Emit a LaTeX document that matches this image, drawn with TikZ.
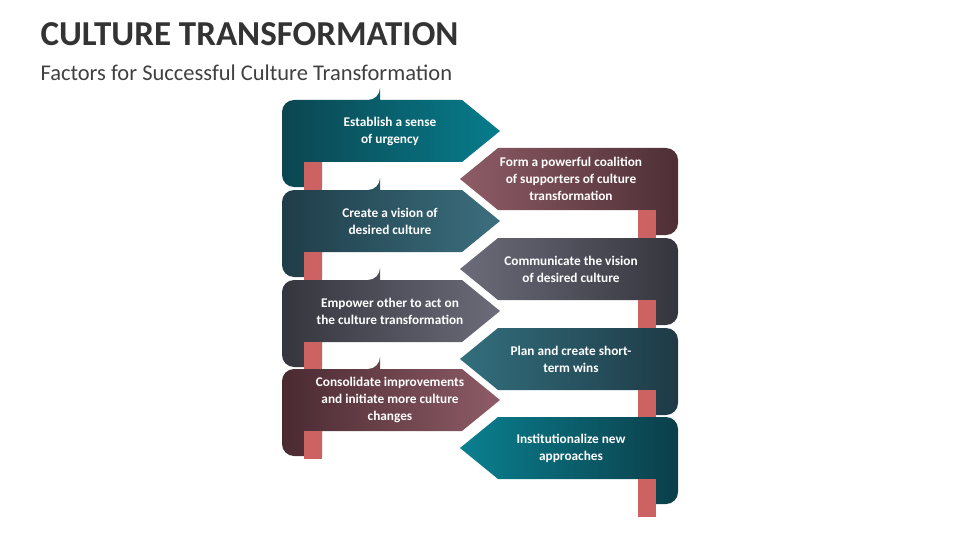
\documentclass[tikz,border=0pt]{standalone}
\usepackage{fontspec}
\setmainfont{Carlito}
\definecolor{barc}{HTML}{CD6262}
\definecolor{c1a}{HTML}{0B4650}\definecolor{c1b}{HTML}{077C8C}
\definecolor{c2a}{HTML}{8E5C66}\definecolor{c2b}{HTML}{4E2F35}
\definecolor{c3a}{HTML}{1F3D49}\definecolor{c3b}{HTML}{3C6F7E}
\definecolor{c4a}{HTML}{6C6C7A}\definecolor{c4b}{HTML}{35353E}
\definecolor{c5a}{HTML}{35353E}\definecolor{c5b}{HTML}{6C6C7A}
\definecolor{c6a}{HTML}{336F7E}\definecolor{c6b}{HTML}{1E3A46}
\definecolor{c7a}{HTML}{4A2A31}\definecolor{c7b}{HTML}{8E5C66}
\definecolor{c8a}{HTML}{0A8090}\definecolor{c8b}{HTML}{0B3E49}
\begin{document}
\begin{tikzpicture}[x=1pt,y=-1pt,
  txt/.style={text=white,font=\bfseries\fontsize{13.3}{17}\selectfont,align=center}]
\useasboundingbox (0,0) rectangle (960,540);
\node[anchor=west,font=\bfseries\fontsize{35}{40}\selectfont,text=black!80] (title) at (37,34) {CULTURE TRANSFORMATION};
\node[anchor=west,font=\fontsize{22.5}{26}\selectfont,text=black!75] (sub) at (37,73) {Factors for Successful Culture Transformation};
\newcommand{\leftshape}[4]{%
  \shade[left color=#2,right color=#3] (380,#1) -- (462,#1) -- (500,#1+31) -- (462,#1+62) -- (322,#1+62) -- (322,#1+87)
   {[rounded corners=12] -- (282,#1+87) -- (282,#1) -- (380,#1)} -- cycle;
  \fill[barc] (304,#1+62) rectangle (322,#1+90);
  \coordinate (#4) at (390,#1+31);}
\newcommand{\rightshape}[4]{%
  \shade[left color=#2,right color=#3] (580,#1) {[rounded corners=12] -- (678,#1) -- (678,#1+87) -- (638,#1+87)} -- (638,#1+62) -- (498,#1+62) -- (460,#1+31) -- (498,#1) -- cycle;
  \fill[barc] (638,#1+62) rectangle (656,#1+100);
  \coordinate (#4) at (571,#1+31);}
\leftshape{100}{c1a}{c1b}{a}
\leftshape{190}{c3a}{c3b}{c}
\leftshape{280}{c5a}{c5b}{e}
\leftshape{369}{c7a}{c7b}{g}
\rightshape{148}{c2a}{c2b}{b}
\rightshape{238}{c4a}{c4b}{d}
\rightshape{328}{c6a}{c6b}{f}
\rightshape{417}{c8a}{c8b}{h}
\node[txt] (ta) at (a) {Establish a sense\\of  urgency};
\node[txt] (tb) at (b) {Form a powerful coalition\\of supporters of  culture\\transformation};
\node[txt] (tc) at (c) {Create a vision of\\desired culture};
\node[txt] (td) at (d) {Communicate the vision\\of desired culture};
\node[txt] (te) at (e) {Empower other to act on\\the culture transformation};
\node[txt] (tf) at (f) {Plan and create short-\\term wins};
\node[txt] (tg) at (g) {Consolidate improvements\\and initiate more culture\\changes};
\node[txt] (th) at (h) {Institutionalize new\\approaches};
\end{tikzpicture}
\end{document}
